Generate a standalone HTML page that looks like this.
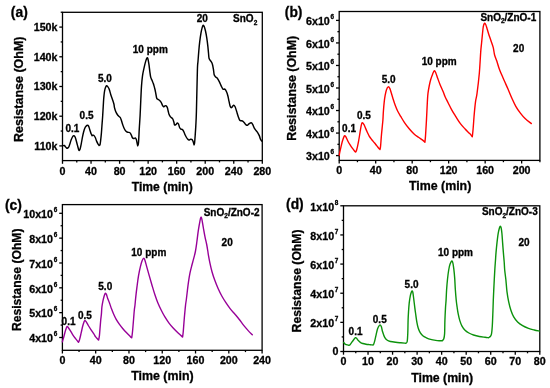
<!DOCTYPE html>
<html><head><meta charset="utf-8"><style>
html,body{margin:0;padding:0;background:#fff;}
svg{display:block;will-change:transform;}
text{font-family:"Liberation Sans", sans-serif;font-weight:bold;fill:#000;stroke:#000;stroke-width:0.3px;}
</style></head><body>
<svg width="550" height="388" viewBox="0 0 550 388">
<rect width="550" height="388" fill="#fff"/>
<rect x="62.50" y="12.30" width="199.80" height="148.30" fill="none" stroke="#000" stroke-width="1.3"/>
<line x1="62.50" y1="160.60" x2="62.50" y2="163.80" stroke="#000" stroke-width="1.3"/>
<text x="62.50" y="175.20" font-size="10.7" text-anchor="middle" >0</text>
<line x1="91.04" y1="160.60" x2="91.04" y2="163.80" stroke="#000" stroke-width="1.3"/>
<text x="91.04" y="175.20" font-size="10.7" text-anchor="middle" >40</text>
<line x1="119.59" y1="160.60" x2="119.59" y2="163.80" stroke="#000" stroke-width="1.3"/>
<text x="119.59" y="175.20" font-size="10.7" text-anchor="middle" >80</text>
<line x1="148.13" y1="160.60" x2="148.13" y2="163.80" stroke="#000" stroke-width="1.3"/>
<text x="148.13" y="175.20" font-size="10.7" text-anchor="middle" >120</text>
<line x1="176.67" y1="160.60" x2="176.67" y2="163.80" stroke="#000" stroke-width="1.3"/>
<text x="176.67" y="175.20" font-size="10.7" text-anchor="middle" >160</text>
<line x1="205.21" y1="160.60" x2="205.21" y2="163.80" stroke="#000" stroke-width="1.3"/>
<text x="205.21" y="175.20" font-size="10.7" text-anchor="middle" >200</text>
<line x1="233.76" y1="160.60" x2="233.76" y2="163.80" stroke="#000" stroke-width="1.3"/>
<text x="233.76" y="175.20" font-size="10.7" text-anchor="middle" >240</text>
<line x1="262.30" y1="160.60" x2="262.30" y2="163.80" stroke="#000" stroke-width="1.3"/>
<text x="262.30" y="175.20" font-size="10.7" text-anchor="middle" >280</text>
<line x1="76.77" y1="160.60" x2="76.77" y2="162.40" stroke="#000" stroke-width="1.3"/>
<line x1="105.31" y1="160.60" x2="105.31" y2="162.40" stroke="#000" stroke-width="1.3"/>
<line x1="133.86" y1="160.60" x2="133.86" y2="162.40" stroke="#000" stroke-width="1.3"/>
<line x1="162.40" y1="160.60" x2="162.40" y2="162.40" stroke="#000" stroke-width="1.3"/>
<line x1="190.94" y1="160.60" x2="190.94" y2="162.40" stroke="#000" stroke-width="1.3"/>
<line x1="219.49" y1="160.60" x2="219.49" y2="162.40" stroke="#000" stroke-width="1.3"/>
<line x1="248.03" y1="160.60" x2="248.03" y2="162.40" stroke="#000" stroke-width="1.3"/>
<line x1="59.30" y1="145.90" x2="62.50" y2="145.90" stroke="#000" stroke-width="1.3"/>
<text x="57.50" y="149.75" font-size="10.7" text-anchor="end" >110k</text>
<line x1="59.30" y1="116.20" x2="62.50" y2="116.20" stroke="#000" stroke-width="1.3"/>
<text x="57.50" y="120.05" font-size="10.7" text-anchor="end" >120k</text>
<line x1="59.30" y1="86.49" x2="62.50" y2="86.49" stroke="#000" stroke-width="1.3"/>
<text x="57.50" y="90.35" font-size="10.7" text-anchor="end" >130k</text>
<line x1="59.30" y1="56.79" x2="62.50" y2="56.79" stroke="#000" stroke-width="1.3"/>
<text x="57.50" y="60.64" font-size="10.7" text-anchor="end" >140k</text>
<line x1="59.30" y1="27.09" x2="62.50" y2="27.09" stroke="#000" stroke-width="1.3"/>
<text x="57.50" y="30.94" font-size="10.7" text-anchor="end" >150k</text>
<line x1="60.70" y1="131.05" x2="62.50" y2="131.05" stroke="#000" stroke-width="1.3"/>
<line x1="60.70" y1="101.35" x2="62.50" y2="101.35" stroke="#000" stroke-width="1.3"/>
<line x1="60.70" y1="71.64" x2="62.50" y2="71.64" stroke="#000" stroke-width="1.3"/>
<line x1="60.70" y1="41.94" x2="62.50" y2="41.94" stroke="#000" stroke-width="1.3"/>
<line x1="60.70" y1="12.24" x2="62.50" y2="12.24" stroke="#000" stroke-width="1.3"/>
<text transform="translate(22.65,89.25) rotate(-90)" x="0" y="0" font-size="12.5" text-anchor="middle">Resistanse (OhM)</text>
<text x="162.30" y="190.70" font-size="12.1" text-anchor="middle" >Time (min)</text>
<text x="19.30" y="16.85" font-size="13.8" text-anchor="middle" >(a)</text>
<text x="65.50" y="132.00" font-size="10" text-anchor="start" >0.1</text>
<text x="79.60" y="119.10" font-size="10" text-anchor="start" >0.5</text>
<text x="97.90" y="82.00" font-size="10" text-anchor="start" >5.0</text>
<text x="132.80" y="53.00" font-size="10" text-anchor="start" >10 ppm</text>
<text x="196.70" y="22.40" font-size="10" text-anchor="start" >20</text>
<text x="233.10" y="22.40" font-size="10">SnO<tspan font-size="6.5" dy="2.2">2</tspan><tspan dy="-2.2"></tspan></text>
<rect x="339.20" y="11.50" width="200.70" height="148.90" fill="none" stroke="#000" stroke-width="1.3"/>
<line x1="339.20" y1="160.40" x2="339.20" y2="163.60" stroke="#000" stroke-width="1.3"/>
<text x="339.20" y="173.90" font-size="10.7" text-anchor="middle" >0</text>
<line x1="375.69" y1="160.40" x2="375.69" y2="163.60" stroke="#000" stroke-width="1.3"/>
<text x="375.69" y="173.90" font-size="10.7" text-anchor="middle" >40</text>
<line x1="412.18" y1="160.40" x2="412.18" y2="163.60" stroke="#000" stroke-width="1.3"/>
<text x="412.18" y="173.90" font-size="10.7" text-anchor="middle" >80</text>
<line x1="448.67" y1="160.40" x2="448.67" y2="163.60" stroke="#000" stroke-width="1.3"/>
<text x="448.67" y="173.90" font-size="10.7" text-anchor="middle" >120</text>
<line x1="485.16" y1="160.40" x2="485.16" y2="163.60" stroke="#000" stroke-width="1.3"/>
<text x="485.16" y="173.90" font-size="10.7" text-anchor="middle" >160</text>
<line x1="521.65" y1="160.40" x2="521.65" y2="163.60" stroke="#000" stroke-width="1.3"/>
<text x="521.65" y="173.90" font-size="10.7" text-anchor="middle" >200</text>
<line x1="357.45" y1="160.40" x2="357.45" y2="162.20" stroke="#000" stroke-width="1.3"/>
<line x1="393.94" y1="160.40" x2="393.94" y2="162.20" stroke="#000" stroke-width="1.3"/>
<line x1="430.43" y1="160.40" x2="430.43" y2="162.20" stroke="#000" stroke-width="1.3"/>
<line x1="466.92" y1="160.40" x2="466.92" y2="162.20" stroke="#000" stroke-width="1.3"/>
<line x1="503.41" y1="160.40" x2="503.41" y2="162.20" stroke="#000" stroke-width="1.3"/>
<line x1="539.90" y1="160.40" x2="539.90" y2="162.20" stroke="#000" stroke-width="1.3"/>
<line x1="336.00" y1="155.60" x2="339.20" y2="155.60" stroke="#000" stroke-width="1.3"/>
<text x="329.80" y="160.35" font-size="10.7" text-anchor="end" letter-spacing="0">3x10</text>
<text x="334.00" y="154.35" font-size="6.4" text-anchor="end">6</text>
<line x1="336.00" y1="133.07" x2="339.20" y2="133.07" stroke="#000" stroke-width="1.3"/>
<text x="329.80" y="137.82" font-size="10.7" text-anchor="end" letter-spacing="0">4x10</text>
<text x="334.00" y="131.82" font-size="6.4" text-anchor="end">6</text>
<line x1="336.00" y1="110.53" x2="339.20" y2="110.53" stroke="#000" stroke-width="1.3"/>
<text x="329.80" y="115.29" font-size="10.7" text-anchor="end" letter-spacing="0">4x10</text>
<text x="334.00" y="109.29" font-size="6.4" text-anchor="end">6</text>
<line x1="336.00" y1="88.00" x2="339.20" y2="88.00" stroke="#000" stroke-width="1.3"/>
<text x="329.80" y="92.75" font-size="10.7" text-anchor="end" letter-spacing="0">5x10</text>
<text x="334.00" y="86.75" font-size="6.4" text-anchor="end">6</text>
<line x1="336.00" y1="65.47" x2="339.20" y2="65.47" stroke="#000" stroke-width="1.3"/>
<text x="329.80" y="70.22" font-size="10.7" text-anchor="end" letter-spacing="0">5x10</text>
<text x="334.00" y="64.22" font-size="6.4" text-anchor="end">6</text>
<line x1="336.00" y1="42.93" x2="339.20" y2="42.93" stroke="#000" stroke-width="1.3"/>
<text x="329.80" y="47.69" font-size="10.7" text-anchor="end" letter-spacing="0">6x10</text>
<text x="334.00" y="41.69" font-size="6.4" text-anchor="end">6</text>
<line x1="336.00" y1="20.40" x2="339.20" y2="20.40" stroke="#000" stroke-width="1.3"/>
<text x="329.80" y="25.15" font-size="10.7" text-anchor="end" letter-spacing="0">6x10</text>
<text x="334.00" y="19.15" font-size="6.4" text-anchor="end">6</text>
<line x1="337.40" y1="144.33" x2="339.20" y2="144.33" stroke="#000" stroke-width="1.3"/>
<line x1="337.40" y1="121.80" x2="339.20" y2="121.80" stroke="#000" stroke-width="1.3"/>
<line x1="337.40" y1="99.27" x2="339.20" y2="99.27" stroke="#000" stroke-width="1.3"/>
<line x1="337.40" y1="76.73" x2="339.20" y2="76.73" stroke="#000" stroke-width="1.3"/>
<line x1="337.40" y1="54.20" x2="339.20" y2="54.20" stroke="#000" stroke-width="1.3"/>
<line x1="337.40" y1="31.67" x2="339.20" y2="31.67" stroke="#000" stroke-width="1.3"/>
<text transform="translate(295.60,88.30) rotate(-90)" x="0" y="0" font-size="12.45" text-anchor="middle">Resistanse (OhM)</text>
<text x="440.10" y="190.20" font-size="12.4" text-anchor="middle" >Time (min)</text>
<text x="293.65" y="16.85" font-size="13.8" text-anchor="middle" >(b)</text>
<text x="342.10" y="132.10" font-size="10" text-anchor="start" >0.1</text>
<text x="357.00" y="119.30" font-size="10" text-anchor="start" >0.5</text>
<text x="381.70" y="82.60" font-size="10" text-anchor="start" >5.0</text>
<text x="421.70" y="65.10" font-size="10" text-anchor="start" >10 ppm</text>
<text x="513.10" y="52.30" font-size="10" text-anchor="start" >20</text>
<text x="480.40" y="21.20" font-size="10">SnO<tspan font-size="6.5" dy="2.2">2</tspan><tspan dy="-2.2">/ZnO-1</tspan></text>
<rect x="62.40" y="204.60" width="199.70" height="145.70" fill="none" stroke="#000" stroke-width="1.3"/>
<line x1="62.40" y1="350.30" x2="62.40" y2="353.50" stroke="#000" stroke-width="1.3"/>
<text x="62.40" y="364.20" font-size="10.7" text-anchor="middle" >0</text>
<line x1="95.68" y1="350.30" x2="95.68" y2="353.50" stroke="#000" stroke-width="1.3"/>
<text x="95.68" y="364.20" font-size="10.7" text-anchor="middle" >40</text>
<line x1="128.97" y1="350.30" x2="128.97" y2="353.50" stroke="#000" stroke-width="1.3"/>
<text x="128.97" y="364.20" font-size="10.7" text-anchor="middle" >80</text>
<line x1="162.25" y1="350.30" x2="162.25" y2="353.50" stroke="#000" stroke-width="1.3"/>
<text x="162.25" y="364.20" font-size="10.7" text-anchor="middle" >120</text>
<line x1="195.53" y1="350.30" x2="195.53" y2="353.50" stroke="#000" stroke-width="1.3"/>
<text x="195.53" y="364.20" font-size="10.7" text-anchor="middle" >160</text>
<line x1="228.82" y1="350.30" x2="228.82" y2="353.50" stroke="#000" stroke-width="1.3"/>
<text x="228.82" y="364.20" font-size="10.7" text-anchor="middle" >200</text>
<line x1="262.10" y1="350.30" x2="262.10" y2="353.50" stroke="#000" stroke-width="1.3"/>
<text x="262.10" y="364.20" font-size="10.7" text-anchor="middle" >240</text>
<line x1="79.04" y1="350.30" x2="79.04" y2="352.10" stroke="#000" stroke-width="1.3"/>
<line x1="112.33" y1="350.30" x2="112.33" y2="352.10" stroke="#000" stroke-width="1.3"/>
<line x1="145.61" y1="350.30" x2="145.61" y2="352.10" stroke="#000" stroke-width="1.3"/>
<line x1="178.89" y1="350.30" x2="178.89" y2="352.10" stroke="#000" stroke-width="1.3"/>
<line x1="212.18" y1="350.30" x2="212.18" y2="352.10" stroke="#000" stroke-width="1.3"/>
<line x1="245.46" y1="350.30" x2="245.46" y2="352.10" stroke="#000" stroke-width="1.3"/>
<line x1="59.20" y1="337.50" x2="62.40" y2="337.50" stroke="#000" stroke-width="1.3"/>
<text x="53.00" y="342.25" font-size="10.7" text-anchor="end" letter-spacing="0">4x10</text>
<text x="57.20" y="336.25" font-size="6.4" text-anchor="end">6</text>
<line x1="59.20" y1="312.66" x2="62.40" y2="312.66" stroke="#000" stroke-width="1.3"/>
<text x="53.00" y="317.41" font-size="10.7" text-anchor="end" letter-spacing="0">5x10</text>
<text x="57.20" y="311.41" font-size="6.4" text-anchor="end">6</text>
<line x1="59.20" y1="287.82" x2="62.40" y2="287.82" stroke="#000" stroke-width="1.3"/>
<text x="53.00" y="292.57" font-size="10.7" text-anchor="end" letter-spacing="0">6x10</text>
<text x="57.20" y="286.57" font-size="6.4" text-anchor="end">6</text>
<line x1="59.20" y1="262.98" x2="62.40" y2="262.98" stroke="#000" stroke-width="1.3"/>
<text x="53.00" y="267.73" font-size="10.7" text-anchor="end" letter-spacing="0">7x10</text>
<text x="57.20" y="261.73" font-size="6.4" text-anchor="end">6</text>
<line x1="59.20" y1="238.14" x2="62.40" y2="238.14" stroke="#000" stroke-width="1.3"/>
<text x="53.00" y="242.89" font-size="10.7" text-anchor="end" letter-spacing="0">8x10</text>
<text x="57.20" y="236.89" font-size="6.4" text-anchor="end">6</text>
<line x1="59.20" y1="213.30" x2="62.40" y2="213.30" stroke="#000" stroke-width="1.3"/>
<text x="53.00" y="218.06" font-size="10.7" text-anchor="end" letter-spacing="0">10x10</text>
<text x="57.20" y="212.06" font-size="6.4" text-anchor="end">6</text>
<line x1="60.60" y1="325.08" x2="62.40" y2="325.08" stroke="#000" stroke-width="1.3"/>
<line x1="60.60" y1="300.24" x2="62.40" y2="300.24" stroke="#000" stroke-width="1.3"/>
<line x1="60.60" y1="275.40" x2="62.40" y2="275.40" stroke="#000" stroke-width="1.3"/>
<line x1="60.60" y1="250.56" x2="62.40" y2="250.56" stroke="#000" stroke-width="1.3"/>
<line x1="60.60" y1="225.72" x2="62.40" y2="225.72" stroke="#000" stroke-width="1.3"/>
<text transform="translate(20.55,279.80) rotate(-90)" x="0" y="0" font-size="12.15" text-anchor="middle">Resistanse (OhM)</text>
<text x="162.40" y="379.80" font-size="12.4" text-anchor="middle" >Time (min)</text>
<text x="13.45" y="209.60" font-size="13.8" text-anchor="middle" >(c)</text>
<text x="61.60" y="324.80" font-size="10" text-anchor="start" >0.1</text>
<text x="78.00" y="319.00" font-size="10" text-anchor="start" >0.5</text>
<text x="98.30" y="290.20" font-size="10" text-anchor="start" >5.0</text>
<text x="131.30" y="255.60" font-size="10" text-anchor="start" >10 ppm</text>
<text x="221.60" y="246.10" font-size="10" text-anchor="start" >20</text>
<text x="203.70" y="216.20" font-size="10">SnO<tspan font-size="6.5" dy="2.2">2</tspan><tspan dy="-2.2">/ZnO-2</tspan></text>
<rect x="343.50" y="205.80" width="196.30" height="145.70" fill="none" stroke="#000" stroke-width="1.3"/>
<line x1="343.50" y1="351.50" x2="343.50" y2="354.70" stroke="#000" stroke-width="1.3"/>
<text x="343.50" y="365.30" font-size="10.7" text-anchor="middle" >0</text>
<line x1="368.04" y1="351.50" x2="368.04" y2="354.70" stroke="#000" stroke-width="1.3"/>
<text x="368.04" y="365.30" font-size="10.7" text-anchor="middle" >10</text>
<line x1="392.57" y1="351.50" x2="392.57" y2="354.70" stroke="#000" stroke-width="1.3"/>
<text x="392.57" y="365.30" font-size="10.7" text-anchor="middle" >20</text>
<line x1="417.11" y1="351.50" x2="417.11" y2="354.70" stroke="#000" stroke-width="1.3"/>
<text x="417.11" y="365.30" font-size="10.7" text-anchor="middle" >30</text>
<line x1="441.65" y1="351.50" x2="441.65" y2="354.70" stroke="#000" stroke-width="1.3"/>
<text x="441.65" y="365.30" font-size="10.7" text-anchor="middle" >40</text>
<line x1="466.19" y1="351.50" x2="466.19" y2="354.70" stroke="#000" stroke-width="1.3"/>
<text x="466.19" y="365.30" font-size="10.7" text-anchor="middle" >50</text>
<line x1="490.72" y1="351.50" x2="490.72" y2="354.70" stroke="#000" stroke-width="1.3"/>
<text x="490.72" y="365.30" font-size="10.7" text-anchor="middle" >60</text>
<line x1="515.26" y1="351.50" x2="515.26" y2="354.70" stroke="#000" stroke-width="1.3"/>
<text x="515.26" y="365.30" font-size="10.7" text-anchor="middle" >70</text>
<line x1="539.80" y1="351.50" x2="539.80" y2="354.70" stroke="#000" stroke-width="1.3"/>
<text x="539.80" y="365.30" font-size="10.7" text-anchor="middle" >80</text>
<line x1="355.77" y1="351.50" x2="355.77" y2="353.30" stroke="#000" stroke-width="1.3"/>
<line x1="380.31" y1="351.50" x2="380.31" y2="353.30" stroke="#000" stroke-width="1.3"/>
<line x1="404.84" y1="351.50" x2="404.84" y2="353.30" stroke="#000" stroke-width="1.3"/>
<line x1="429.38" y1="351.50" x2="429.38" y2="353.30" stroke="#000" stroke-width="1.3"/>
<line x1="453.92" y1="351.50" x2="453.92" y2="353.30" stroke="#000" stroke-width="1.3"/>
<line x1="478.46" y1="351.50" x2="478.46" y2="353.30" stroke="#000" stroke-width="1.3"/>
<line x1="502.99" y1="351.50" x2="502.99" y2="353.30" stroke="#000" stroke-width="1.3"/>
<line x1="527.53" y1="351.50" x2="527.53" y2="353.30" stroke="#000" stroke-width="1.3"/>
<line x1="340.30" y1="351.50" x2="343.50" y2="351.50" stroke="#000" stroke-width="1.3"/>
<text x="338.50" y="355.35" font-size="10.7" text-anchor="end" >0</text>
<line x1="340.30" y1="322.36" x2="343.50" y2="322.36" stroke="#000" stroke-width="1.3"/>
<text x="334.10" y="327.11" font-size="10.7" text-anchor="end" letter-spacing="0">2x10</text>
<text x="338.30" y="321.11" font-size="6.4" text-anchor="end">7</text>
<line x1="340.30" y1="293.22" x2="343.50" y2="293.22" stroke="#000" stroke-width="1.3"/>
<text x="334.10" y="297.97" font-size="10.7" text-anchor="end" letter-spacing="0">4x10</text>
<text x="338.30" y="291.97" font-size="6.4" text-anchor="end">7</text>
<line x1="340.30" y1="264.08" x2="343.50" y2="264.08" stroke="#000" stroke-width="1.3"/>
<text x="334.10" y="268.83" font-size="10.7" text-anchor="end" letter-spacing="0">6x10</text>
<text x="338.30" y="262.83" font-size="6.4" text-anchor="end">7</text>
<line x1="340.30" y1="234.94" x2="343.50" y2="234.94" stroke="#000" stroke-width="1.3"/>
<text x="334.10" y="239.69" font-size="10.7" text-anchor="end" letter-spacing="0">8x10</text>
<text x="338.30" y="233.69" font-size="6.4" text-anchor="end">7</text>
<line x1="340.30" y1="205.80" x2="343.50" y2="205.80" stroke="#000" stroke-width="1.3"/>
<text x="334.10" y="210.55" font-size="10.7" text-anchor="end" letter-spacing="0">1x10</text>
<text x="338.30" y="204.55" font-size="6.4" text-anchor="end">8</text>
<line x1="341.70" y1="336.93" x2="343.50" y2="336.93" stroke="#000" stroke-width="1.3"/>
<line x1="341.70" y1="307.79" x2="343.50" y2="307.79" stroke="#000" stroke-width="1.3"/>
<line x1="341.70" y1="278.65" x2="343.50" y2="278.65" stroke="#000" stroke-width="1.3"/>
<line x1="341.70" y1="249.51" x2="343.50" y2="249.51" stroke="#000" stroke-width="1.3"/>
<line x1="341.70" y1="220.37" x2="343.50" y2="220.37" stroke="#000" stroke-width="1.3"/>
<text transform="translate(301.30,280.95) rotate(-90)" x="0" y="0" font-size="12.2" text-anchor="middle">Resistanse (OhM)</text>
<text x="442.15" y="381.70" font-size="12.3" text-anchor="middle" >Time (min)</text>
<text x="294.90" y="208.70" font-size="13.8" text-anchor="middle" >(d)</text>
<text x="348.60" y="335.10" font-size="10" text-anchor="start" >0.1</text>
<text x="372.80" y="322.60" font-size="10" text-anchor="start" >0.5</text>
<text x="404.60" y="288.20" font-size="10" text-anchor="start" >5.0</text>
<text x="438.00" y="255.60" font-size="10" text-anchor="start" >10 ppm</text>
<text x="518.50" y="245.80" font-size="10" text-anchor="start" >20</text>
<text x="481.90" y="215.40" font-size="10">SnO<tspan font-size="6.5" dy="2.2">2</tspan><tspan dy="-2.2">/ZnO-3</tspan></text>
<path d="M62.70,145.70 C62.97,145.67 63.85,145.33 64.30,145.50 C64.75,145.67 65.02,146.28 65.40,146.70 C65.78,147.12 66.22,147.78 66.60,148.00 C66.98,148.22 67.32,148.22 67.70,148.00 C68.08,147.78 68.50,147.50 68.90,146.70 C69.30,145.90 69.72,144.37 70.10,143.20 C70.48,142.03 70.75,140.83 71.20,139.70 C71.65,138.57 72.35,137.05 72.80,136.40 C73.25,135.75 73.52,135.70 73.90,135.80 C74.28,135.90 74.72,136.22 75.10,137.00 C75.48,137.78 75.82,139.15 76.20,140.50 C76.58,141.85 77.00,143.62 77.40,145.10 C77.80,146.58 78.30,148.50 78.60,149.40 C78.90,150.30 78.95,150.57 79.20,150.50 C79.45,150.43 79.75,150.15 80.10,149.00 C80.45,147.85 80.92,145.53 81.30,143.60 C81.68,141.67 82.02,139.33 82.40,137.40 C82.78,135.47 83.22,133.48 83.60,132.00 C83.98,130.52 84.30,129.45 84.70,128.50 C85.10,127.55 85.53,126.83 86.00,126.30 C86.47,125.77 87.07,125.32 87.50,125.30 C87.93,125.28 88.22,125.47 88.60,126.20 C88.98,126.93 89.40,128.48 89.80,129.70 C90.20,130.92 90.63,132.52 91.00,133.50 C91.37,134.48 91.65,135.33 92.00,135.60 C92.35,135.87 92.72,135.05 93.10,135.10 C93.48,135.15 93.92,135.45 94.30,135.90 C94.68,136.35 95.03,136.97 95.40,137.80 C95.77,138.63 96.10,139.93 96.50,140.90 C96.90,141.87 97.37,142.83 97.80,143.60 C98.23,144.37 98.88,145.18 99.10,145.50 C99.25,145.37 99.75,145.47 100.00,144.70 C100.25,143.93 100.37,142.83 100.60,140.90 C100.83,138.97 101.18,135.55 101.40,133.10 C101.62,130.65 101.70,128.88 101.90,126.20 C102.10,123.52 102.33,121.08 102.60,117.00 C102.87,112.92 103.27,105.28 103.50,101.70 C103.73,98.12 103.82,97.32 104.00,95.50 C104.18,93.68 104.33,92.17 104.60,90.80 C104.87,89.43 105.27,88.13 105.60,87.30 C105.93,86.47 106.25,85.92 106.60,85.80 C106.95,85.68 107.32,86.15 107.70,86.60 C108.08,87.05 108.57,87.80 108.90,88.50 C109.23,89.20 109.38,89.77 109.70,90.80 C110.02,91.83 110.35,93.28 110.80,94.70 C111.25,96.12 111.88,97.75 112.40,99.30 C112.92,100.85 113.55,102.60 113.90,104.00 C114.25,105.40 114.22,106.48 114.50,107.70 C114.78,108.92 115.18,110.25 115.60,111.30 C116.02,112.35 116.47,113.17 117.00,114.00 C117.53,114.83 118.25,115.72 118.80,116.30 C119.35,116.88 119.85,116.75 120.30,117.50 C120.75,118.25 121.08,119.57 121.50,120.80 C121.92,122.03 122.35,123.62 122.80,124.90 C123.25,126.18 123.67,127.45 124.20,128.50 C124.73,129.55 125.40,130.57 126.00,131.20 C126.60,131.83 127.20,132.08 127.80,132.30 C128.40,132.52 129.07,132.17 129.60,132.50 C130.13,132.83 130.55,133.47 131.00,134.30 C131.45,135.13 131.85,136.78 132.30,137.50 C132.75,138.22 133.20,138.53 133.70,138.60 C134.20,138.67 134.85,137.72 135.30,137.90 C135.75,138.08 136.10,138.82 136.40,139.70 C136.70,140.58 136.88,142.18 137.10,143.20 C137.32,144.22 137.60,145.37 137.70,145.80 C137.83,145.27 138.23,145.50 138.50,142.60 C138.77,139.70 139.03,132.92 139.30,128.40 C139.57,123.88 139.85,120.23 140.10,115.50 C140.35,110.77 140.57,104.90 140.80,100.00 C141.03,95.10 141.22,90.13 141.50,86.10 C141.78,82.07 142.08,78.80 142.50,75.80 C142.92,72.80 143.48,70.47 144.00,68.10 C144.52,65.73 145.10,63.28 145.60,61.60 C146.10,59.92 146.62,58.47 147.00,58.00 C147.38,57.53 147.58,57.77 147.90,58.80 C148.22,59.83 148.58,62.12 148.90,64.20 C149.22,66.28 149.50,69.15 149.80,71.30 C150.10,73.45 150.33,75.60 150.70,77.10 C151.07,78.60 151.57,79.23 152.00,80.30 C152.43,81.37 153.00,82.72 153.30,83.50 C153.60,84.28 153.52,84.00 153.80,85.00 C154.08,86.00 154.65,88.00 155.00,89.50 C155.35,91.00 155.60,92.52 155.90,94.00 C156.20,95.48 156.43,97.50 156.80,98.40 C157.17,99.30 157.58,99.00 158.10,99.40 C158.62,99.80 159.37,100.27 159.90,100.80 C160.43,101.33 160.87,101.85 161.30,102.60 C161.73,103.35 162.13,104.60 162.50,105.30 C162.87,106.00 163.10,106.70 163.50,106.80 C163.90,106.90 164.45,106.05 164.90,105.90 C165.35,105.75 165.80,105.62 166.20,105.90 C166.60,106.18 166.98,106.80 167.30,107.60 C167.62,108.40 167.82,109.58 168.10,110.70 C168.38,111.82 168.63,113.32 169.00,114.30 C169.37,115.28 169.90,116.05 170.30,116.60 C170.70,117.15 170.98,117.20 171.40,117.60 C171.82,118.00 172.38,118.23 172.80,119.00 C173.22,119.77 173.60,121.20 173.90,122.20 C174.20,123.20 174.25,124.62 174.60,125.00 C174.95,125.38 175.53,124.85 176.00,124.50 C176.47,124.15 176.98,122.98 177.40,122.90 C177.82,122.82 178.12,123.18 178.50,124.00 C178.88,124.82 179.30,126.95 179.70,127.80 C180.10,128.65 180.43,128.80 180.90,129.10 C181.37,129.40 182.03,129.20 182.50,129.60 C182.97,130.00 183.32,130.73 183.70,131.50 C184.08,132.27 184.38,133.28 184.80,134.20 C185.22,135.12 185.73,136.18 186.20,137.00 C186.67,137.82 187.13,138.58 187.60,139.10 C188.07,139.62 188.50,140.07 189.00,140.10 C189.50,140.13 190.08,139.38 190.60,139.30 C191.12,139.22 191.67,139.20 192.10,139.60 C192.53,140.00 192.87,140.82 193.20,141.70 C193.53,142.58 193.95,144.37 194.10,144.90 C194.18,144.52 194.42,144.22 194.60,142.60 C194.78,140.98 195.00,137.98 195.20,135.20 C195.40,132.42 195.60,129.77 195.80,125.90 C196.00,122.03 196.13,121.32 196.40,112.00 C196.67,102.68 197.13,78.45 197.40,70.00 C197.67,61.55 197.77,64.47 198.00,61.30 C198.23,58.13 198.52,54.23 198.80,51.00 C199.08,47.77 199.33,44.92 199.70,41.90 C200.07,38.88 200.57,35.37 201.00,32.90 C201.43,30.43 201.93,28.38 202.30,27.10 C202.67,25.82 202.88,25.30 203.20,25.20 C203.52,25.10 203.82,25.53 204.20,26.50 C204.58,27.47 205.07,29.07 205.50,31.00 C205.93,32.93 206.42,35.63 206.80,38.10 C207.18,40.57 207.52,43.32 207.80,45.80 C208.08,48.28 208.28,50.88 208.50,53.00 C208.72,55.12 208.68,57.10 209.10,58.50 C209.52,59.90 210.45,60.45 211.00,61.40 C211.55,62.35 212.00,62.92 212.40,64.20 C212.80,65.48 213.10,67.33 213.40,69.10 C213.70,70.87 213.83,73.50 214.20,74.80 C214.57,76.10 215.08,76.32 215.60,76.90 C216.12,77.48 216.67,77.47 217.30,78.30 C217.93,79.13 218.73,80.60 219.40,81.90 C220.07,83.20 220.70,84.88 221.30,86.10 C221.90,87.32 222.42,88.68 223.00,89.20 C223.58,89.72 224.22,88.77 224.80,89.20 C225.38,89.63 225.98,90.67 226.50,91.80 C227.02,92.93 227.47,94.35 227.90,96.00 C228.33,97.65 228.70,99.93 229.10,101.70 C229.50,103.47 229.90,105.62 230.30,106.60 C230.70,107.58 230.95,107.83 231.50,107.60 C232.05,107.37 233.00,105.33 233.60,105.20 C234.20,105.07 234.60,105.78 235.10,106.80 C235.60,107.82 236.08,109.68 236.60,111.30 C237.12,112.92 237.67,115.00 238.20,116.50 C238.73,118.00 239.25,119.60 239.80,120.30 C240.35,121.00 241.02,120.55 241.50,120.70 C241.98,120.85 242.23,120.87 242.70,121.20 C243.17,121.53 243.78,122.13 244.30,122.70 C244.82,123.27 245.28,124.17 245.80,124.60 C246.32,125.03 246.88,125.42 247.40,125.30 C247.92,125.18 248.27,124.33 248.90,123.90 C249.53,123.47 250.55,122.58 251.20,122.70 C251.85,122.82 252.28,123.70 252.80,124.60 C253.32,125.50 253.78,127.13 254.30,128.10 C254.82,129.07 255.32,129.62 255.90,130.40 C256.48,131.18 257.22,131.88 257.80,132.80 C258.38,133.72 258.95,134.82 259.40,135.90 C259.85,136.98 260.12,138.43 260.50,139.30 C260.88,140.17 261.50,140.80 261.70,141.10" fill="none" stroke="#000" stroke-width="1.45" stroke-linejoin="round" stroke-linecap="round"/>
<path d="M339.30,155.20 C339.35,154.87 339.37,154.37 339.60,153.20 C339.83,152.03 340.25,150.15 340.70,148.20 C341.15,146.25 341.75,143.43 342.30,141.50 C342.85,139.57 343.58,137.55 344.00,136.60 C344.42,135.65 344.48,135.75 344.80,135.80 C345.12,135.85 345.40,136.03 345.90,136.90 C346.40,137.77 347.10,139.67 347.80,141.00 C348.50,142.33 349.35,143.70 350.10,144.90 C350.85,146.10 351.57,147.18 352.30,148.20 C353.03,149.22 353.95,150.35 354.50,151.00 C355.05,151.65 355.42,151.92 355.60,152.10 C355.78,151.72 356.23,151.47 356.70,149.80 C357.17,148.13 357.85,144.95 358.40,142.10 C358.95,139.25 359.55,135.37 360.00,132.70 C360.45,130.03 360.73,127.77 361.10,126.10 C361.47,124.43 361.72,122.95 362.20,122.70 C362.68,122.45 363.43,123.65 364.00,124.60 C364.57,125.55 365.07,127.17 365.60,128.40 C366.13,129.63 366.60,130.72 367.20,132.00 C367.80,133.28 368.43,134.82 369.20,136.10 C369.97,137.38 370.93,138.58 371.80,139.70 C372.67,140.82 373.55,141.77 374.40,142.80 C375.25,143.83 376.13,144.95 376.90,145.90 C377.67,146.85 378.48,147.90 379.00,148.50 C379.52,149.10 379.83,149.33 380.00,149.50 C380.10,148.90 380.37,148.22 380.60,145.90 C380.83,143.58 381.10,139.03 381.40,135.60 C381.70,132.17 382.15,127.90 382.40,125.30 C382.65,122.70 382.73,122.35 382.90,120.00 C383.07,117.65 383.18,114.17 383.40,111.20 C383.62,108.23 383.92,104.78 384.20,102.20 C384.48,99.62 384.73,97.75 385.10,95.70 C385.47,93.65 385.88,91.38 386.40,89.90 C386.92,88.42 387.62,87.02 388.20,86.80 C388.78,86.58 389.37,87.52 389.90,88.60 C390.43,89.68 390.88,91.62 391.40,93.30 C391.92,94.98 392.35,96.65 393.00,98.70 C393.65,100.75 394.53,103.55 395.30,105.60 C396.07,107.65 396.70,109.20 397.60,111.00 C398.50,112.80 399.55,114.47 400.70,116.40 C401.85,118.33 403.08,120.53 404.50,122.60 C405.92,124.67 407.65,126.95 409.20,128.80 C410.75,130.65 412.27,132.28 413.80,133.70 C415.33,135.12 416.98,136.27 418.40,137.30 C419.82,138.33 421.22,139.07 422.30,139.90 C423.38,140.73 424.47,141.90 424.90,142.30 C425.00,141.27 425.23,139.92 425.50,136.10 C425.77,132.28 426.18,125.25 426.50,119.40 C426.82,113.55 427.15,105.37 427.40,101.00 C427.65,96.63 427.68,95.78 428.00,93.20 C428.32,90.62 428.83,87.82 429.30,85.50 C429.77,83.18 430.23,81.23 430.80,79.30 C431.37,77.37 432.10,75.32 432.70,73.90 C433.30,72.48 433.87,70.92 434.40,70.80 C434.93,70.68 435.33,71.90 435.90,73.20 C436.47,74.50 437.10,76.68 437.80,78.60 C438.50,80.52 439.20,82.52 440.10,84.70 C441.00,86.88 442.38,89.73 443.20,91.70 C444.02,93.67 444.18,94.67 445.00,96.50 C445.82,98.33 446.93,100.38 448.10,102.70 C449.27,105.02 450.72,108.08 452.00,110.40 C453.28,112.72 454.40,114.40 455.80,116.60 C457.20,118.80 458.85,121.53 460.40,123.60 C461.95,125.67 463.55,127.33 465.10,129.00 C466.65,130.67 468.50,132.32 469.70,133.60 C470.90,134.88 471.87,136.18 472.30,136.70 C472.43,135.42 472.77,132.87 473.10,129.00 C473.43,125.13 473.88,118.13 474.30,113.50 C474.72,108.87 475.15,104.52 475.60,101.20 C476.05,97.88 476.38,98.22 477.00,93.60 C477.62,88.98 478.68,80.42 479.30,73.50 C479.92,66.58 480.32,57.22 480.70,52.10 C481.08,46.98 481.30,45.90 481.60,42.80 C481.90,39.70 482.22,36.20 482.50,33.50 C482.78,30.80 482.97,28.30 483.30,26.60 C483.63,24.90 484.12,23.68 484.50,23.30 C484.88,22.92 485.22,23.57 485.60,24.30 C485.98,25.03 486.32,26.17 486.80,27.70 C487.28,29.23 487.82,31.37 488.50,33.50 C489.18,35.63 490.12,38.18 490.90,40.50 C491.68,42.82 492.58,44.98 493.20,47.40 C493.82,49.82 494.00,52.73 494.60,55.00 C495.20,57.27 496.02,58.68 496.80,61.00 C497.58,63.32 498.23,66.03 499.30,68.90 C500.37,71.77 502.25,75.97 503.20,78.20 C504.15,80.43 504.18,80.45 505.00,82.30 C505.82,84.15 506.93,86.60 508.10,89.30 C509.27,92.00 510.72,95.67 512.00,98.50 C513.28,101.33 514.40,103.85 515.80,106.30 C517.20,108.75 518.85,111.15 520.40,113.20 C521.95,115.25 523.28,116.87 525.10,118.60 C526.92,120.33 530.27,122.77 531.30,123.60" fill="none" stroke="#ff0000" stroke-width="1.4" stroke-linejoin="round" stroke-linecap="round"/>
<path d="M62.40,341.80 C62.47,341.57 62.52,341.40 62.80,340.40 C63.08,339.40 63.63,337.52 64.10,335.80 C64.57,334.08 65.12,331.65 65.60,330.10 C66.08,328.55 66.57,326.93 67.00,326.50 C67.43,326.07 67.65,326.82 68.20,327.50 C68.75,328.18 69.53,329.38 70.30,330.60 C71.07,331.82 71.95,333.50 72.80,334.80 C73.65,336.10 74.62,337.37 75.40,338.40 C76.18,339.43 76.98,340.37 77.50,341.00 C78.02,341.63 78.33,342.00 78.50,342.20 C78.67,341.82 79.07,341.40 79.50,339.90 C79.93,338.40 80.58,335.43 81.10,333.20 C81.62,330.97 82.12,328.38 82.60,326.50 C83.08,324.62 83.62,322.90 84.00,321.90 C84.38,320.90 84.52,320.50 84.90,320.50 C85.28,320.50 85.73,321.07 86.30,321.90 C86.87,322.73 87.53,324.22 88.30,325.50 C89.07,326.78 89.95,328.15 90.90,329.60 C91.85,331.05 93.23,333.03 94.00,334.20 C94.77,335.37 94.98,335.88 95.50,336.60 C96.02,337.32 96.58,337.92 97.10,338.50 C97.62,339.08 98.35,339.83 98.60,340.10 C98.73,339.38 99.17,337.72 99.40,335.80 C99.63,333.88 99.78,331.18 100.00,328.60 C100.22,326.02 100.47,322.72 100.70,320.30 C100.93,317.88 101.20,316.32 101.40,314.10 C101.60,311.88 101.63,309.23 101.90,307.00 C102.17,304.77 102.63,302.50 103.00,300.70 C103.37,298.90 103.72,297.43 104.10,296.20 C104.48,294.97 104.92,293.60 105.30,293.30 C105.68,293.00 106.00,293.53 106.40,294.40 C106.80,295.27 107.18,297.07 107.70,298.50 C108.22,299.93 108.85,301.23 109.50,303.00 C110.15,304.77 110.90,307.22 111.60,309.10 C112.30,310.98 112.93,312.58 113.70,314.30 C114.47,316.02 115.27,317.77 116.20,319.40 C117.13,321.03 118.18,322.55 119.30,324.10 C120.42,325.65 121.68,327.25 122.90,328.70 C124.12,330.15 125.38,331.52 126.60,332.80 C127.82,334.08 129.35,335.57 130.20,336.40 C131.05,337.23 131.45,337.57 131.70,337.80 C131.82,336.97 132.13,335.35 132.40,332.80 C132.67,330.25 132.98,326.27 133.30,322.50 C133.62,318.73 134.02,313.12 134.30,310.20 C134.58,307.28 134.77,307.10 135.00,305.00 C135.23,302.90 135.37,300.65 135.70,297.60 C136.03,294.55 136.53,290.32 137.00,286.70 C137.47,283.08 137.93,279.25 138.50,275.90 C139.07,272.55 139.78,269.17 140.40,266.60 C141.02,264.03 141.63,261.92 142.20,260.50 C142.77,259.08 143.33,258.10 143.80,258.10 C144.27,258.10 144.48,258.95 145.00,260.50 C145.52,262.05 146.18,264.83 146.90,267.40 C147.62,269.97 148.45,272.93 149.30,275.90 C150.15,278.87 151.05,282.02 152.00,285.20 C152.95,288.38 154.03,292.08 155.00,295.00 C155.97,297.92 156.73,300.12 157.80,302.70 C158.87,305.28 160.22,308.13 161.40,310.50 C162.58,312.87 163.60,314.77 164.90,316.90 C166.20,319.03 167.78,321.42 169.20,323.30 C170.62,325.18 171.87,326.55 173.40,328.20 C174.93,329.85 176.87,331.73 178.40,333.20 C179.93,334.67 181.90,336.37 182.60,337.00 C182.72,336.02 183.02,334.22 183.30,331.10 C183.58,327.98 183.93,322.55 184.30,318.30 C184.67,314.05 185.15,308.82 185.50,305.60 C185.85,302.38 186.08,301.52 186.40,299.00 C186.72,296.48 187.05,293.35 187.40,290.50 C187.75,287.65 188.08,284.75 188.50,281.90 C188.92,279.05 189.38,276.00 189.90,273.40 C190.42,270.80 191.00,268.67 191.60,266.30 C192.20,263.93 192.87,261.67 193.50,259.20 C194.13,256.73 194.83,254.45 195.40,251.50 C195.97,248.55 196.42,244.98 196.90,241.50 C197.38,238.02 197.80,233.97 198.30,230.60 C198.80,227.23 199.47,223.53 199.90,221.30 C200.33,219.07 200.57,217.53 200.90,217.20 C201.23,216.87 201.50,217.58 201.90,219.30 C202.30,221.02 202.78,224.58 203.30,227.50 C203.82,230.42 204.45,234.05 205.00,236.80 C205.55,239.55 206.13,241.63 206.60,244.00 C207.07,246.37 207.50,249.17 207.80,251.00 C208.10,252.83 208.03,252.93 208.40,255.00 C208.77,257.07 209.40,260.60 210.00,263.40 C210.60,266.20 211.22,269.02 212.00,271.80 C212.78,274.58 213.68,277.32 214.70,280.10 C215.72,282.88 216.92,285.85 218.10,288.50 C219.28,291.15 220.50,293.63 221.80,296.00 C223.10,298.37 224.52,300.60 225.90,302.70 C227.28,304.80 228.55,306.63 230.10,308.60 C231.65,310.57 233.67,312.68 235.20,314.50 C236.73,316.32 237.88,317.68 239.30,319.50 C240.72,321.32 242.22,323.55 243.70,325.40 C245.18,327.25 246.77,329.03 248.20,330.60 C249.63,332.17 251.62,334.10 252.30,334.80" fill="none" stroke="#980098" stroke-width="1.4" stroke-linejoin="round" stroke-linecap="round"/>
<path d="M343.60,342.50 C343.70,342.60 343.88,342.80 344.20,343.10 C344.52,343.40 344.95,344.00 345.50,344.30 C346.05,344.60 346.82,344.75 347.50,344.90 C348.18,345.05 348.98,345.50 349.60,345.20 C350.22,344.90 350.58,343.93 351.20,343.10 C351.82,342.27 352.60,341.10 353.30,340.20 C354.00,339.30 354.85,338.02 355.40,337.70 C355.95,337.38 356.12,337.83 356.60,338.30 C357.08,338.77 357.68,339.83 358.30,340.50 C358.92,341.17 359.55,341.80 360.30,342.30 C361.05,342.80 361.83,343.18 362.80,343.50 C363.77,343.82 365.00,344.02 366.10,344.20 C367.20,344.38 368.37,344.48 369.40,344.60 C370.43,344.72 371.62,344.90 372.30,344.90 C372.98,344.90 373.08,345.32 373.50,344.60 C373.92,343.88 374.35,342.32 374.80,340.60 C375.25,338.88 375.73,336.27 376.20,334.30 C376.67,332.33 377.18,330.13 377.60,328.80 C378.02,327.47 378.28,326.95 378.70,326.30 C379.12,325.65 379.65,324.82 380.10,324.90 C380.55,324.98 380.98,325.65 381.40,326.80 C381.82,327.95 382.05,330.03 382.60,331.80 C383.15,333.57 383.92,335.98 384.70,337.40 C385.48,338.82 386.33,339.62 387.30,340.30 C388.27,340.98 389.12,341.17 390.50,341.50 C391.88,341.83 393.88,342.08 395.60,342.30 C397.32,342.52 399.07,342.65 400.80,342.80 C402.53,342.95 405.13,343.13 406.00,343.20 C406.20,342.92 406.90,343.20 407.20,341.50 C407.50,339.80 407.65,336.58 407.80,333.00 C407.95,329.42 407.98,323.48 408.10,320.00 C408.22,316.52 408.32,314.92 408.50,312.10 C408.68,309.28 408.90,305.82 409.20,303.10 C409.50,300.38 409.92,297.68 410.30,295.80 C410.68,293.92 411.20,292.62 411.50,291.80 C411.80,290.98 411.88,290.83 412.10,290.90 C412.32,290.97 412.53,290.92 412.80,292.20 C413.07,293.48 413.37,296.03 413.70,298.60 C414.03,301.17 414.48,305.12 414.80,307.60 C415.12,310.08 415.25,311.03 415.60,313.50 C415.95,315.97 416.47,319.98 416.90,322.40 C417.33,324.82 417.65,326.28 418.20,328.00 C418.75,329.72 419.43,331.40 420.20,332.70 C420.97,334.00 421.77,334.95 422.80,335.80 C423.83,336.65 425.10,337.20 426.40,337.80 C427.70,338.40 429.05,338.97 430.60,339.40 C432.15,339.83 434.18,340.18 435.70,340.40 C437.22,340.62 438.60,340.65 439.70,340.70 C440.80,340.75 441.87,340.70 442.30,340.70 C442.55,340.38 443.42,339.98 443.80,338.80 C444.18,337.62 444.42,336.62 444.60,333.60 C444.78,330.58 444.75,324.98 444.90,320.70 C445.05,316.42 445.30,311.37 445.50,307.90 C445.70,304.43 445.92,302.93 446.10,299.90 C446.28,296.87 446.37,293.13 446.60,289.70 C446.83,286.27 447.15,282.58 447.50,279.30 C447.85,276.02 448.28,272.50 448.70,270.00 C449.12,267.50 449.48,265.80 450.00,264.30 C450.52,262.80 451.32,261.20 451.80,261.00 C452.28,260.80 452.57,261.78 452.90,263.10 C453.23,264.42 453.50,266.40 453.80,268.90 C454.10,271.40 454.45,274.75 454.70,278.10 C454.95,281.45 455.05,285.35 455.30,289.00 C455.55,292.65 455.90,297.00 456.20,300.00 C456.50,303.00 456.77,304.68 457.10,307.00 C457.43,309.32 457.73,311.58 458.20,313.90 C458.67,316.22 459.27,318.87 459.90,320.90 C460.53,322.93 461.18,324.60 462.00,326.10 C462.82,327.60 463.65,328.75 464.80,329.90 C465.95,331.05 467.45,332.15 468.90,333.00 C470.35,333.85 471.77,334.42 473.50,335.00 C475.23,335.58 477.37,336.12 479.30,336.50 C481.23,336.88 483.55,337.10 485.10,337.30 C486.65,337.50 488.02,337.63 488.60,337.70 C488.88,337.50 489.82,337.15 490.30,336.50 C490.78,335.85 491.17,335.55 491.50,333.80 C491.83,332.05 492.07,329.63 492.30,326.00 C492.53,322.37 492.73,316.33 492.90,312.00 C493.07,307.67 493.12,304.50 493.30,300.00 C493.48,295.50 493.75,290.00 494.00,285.00 C494.25,280.00 494.55,274.17 494.80,270.00 C495.05,265.83 495.30,262.85 495.50,260.00 C495.70,257.15 495.75,255.80 496.00,252.90 C496.25,250.00 496.63,245.87 497.00,242.60 C497.37,239.33 497.78,235.78 498.20,233.30 C498.62,230.82 499.15,228.87 499.50,227.70 C499.85,226.53 500.03,226.30 500.30,226.30 C500.57,226.30 500.83,226.53 501.10,227.70 C501.37,228.87 501.65,230.82 501.90,233.30 C502.15,235.78 502.35,239.33 502.60,242.60 C502.85,245.87 503.13,249.67 503.40,252.90 C503.67,256.13 503.98,259.15 504.20,262.00 C504.42,264.85 504.42,267.00 504.70,270.00 C504.98,273.00 505.52,276.37 505.90,280.00 C506.28,283.63 506.53,288.17 507.00,291.80 C507.47,295.43 508.05,298.73 508.70,301.80 C509.35,304.87 510.07,307.68 510.90,310.20 C511.73,312.72 512.58,314.95 513.70,316.90 C514.82,318.85 516.12,320.45 517.60,321.90 C519.08,323.35 520.78,324.53 522.60,325.60 C524.42,326.67 526.55,327.57 528.50,328.30 C530.45,329.03 532.48,329.53 534.30,330.00 C536.12,330.47 538.55,330.92 539.40,331.10" fill="none" stroke="#0c920c" stroke-width="1.4" stroke-linejoin="round" stroke-linecap="round"/>

</svg>
</body></html>
